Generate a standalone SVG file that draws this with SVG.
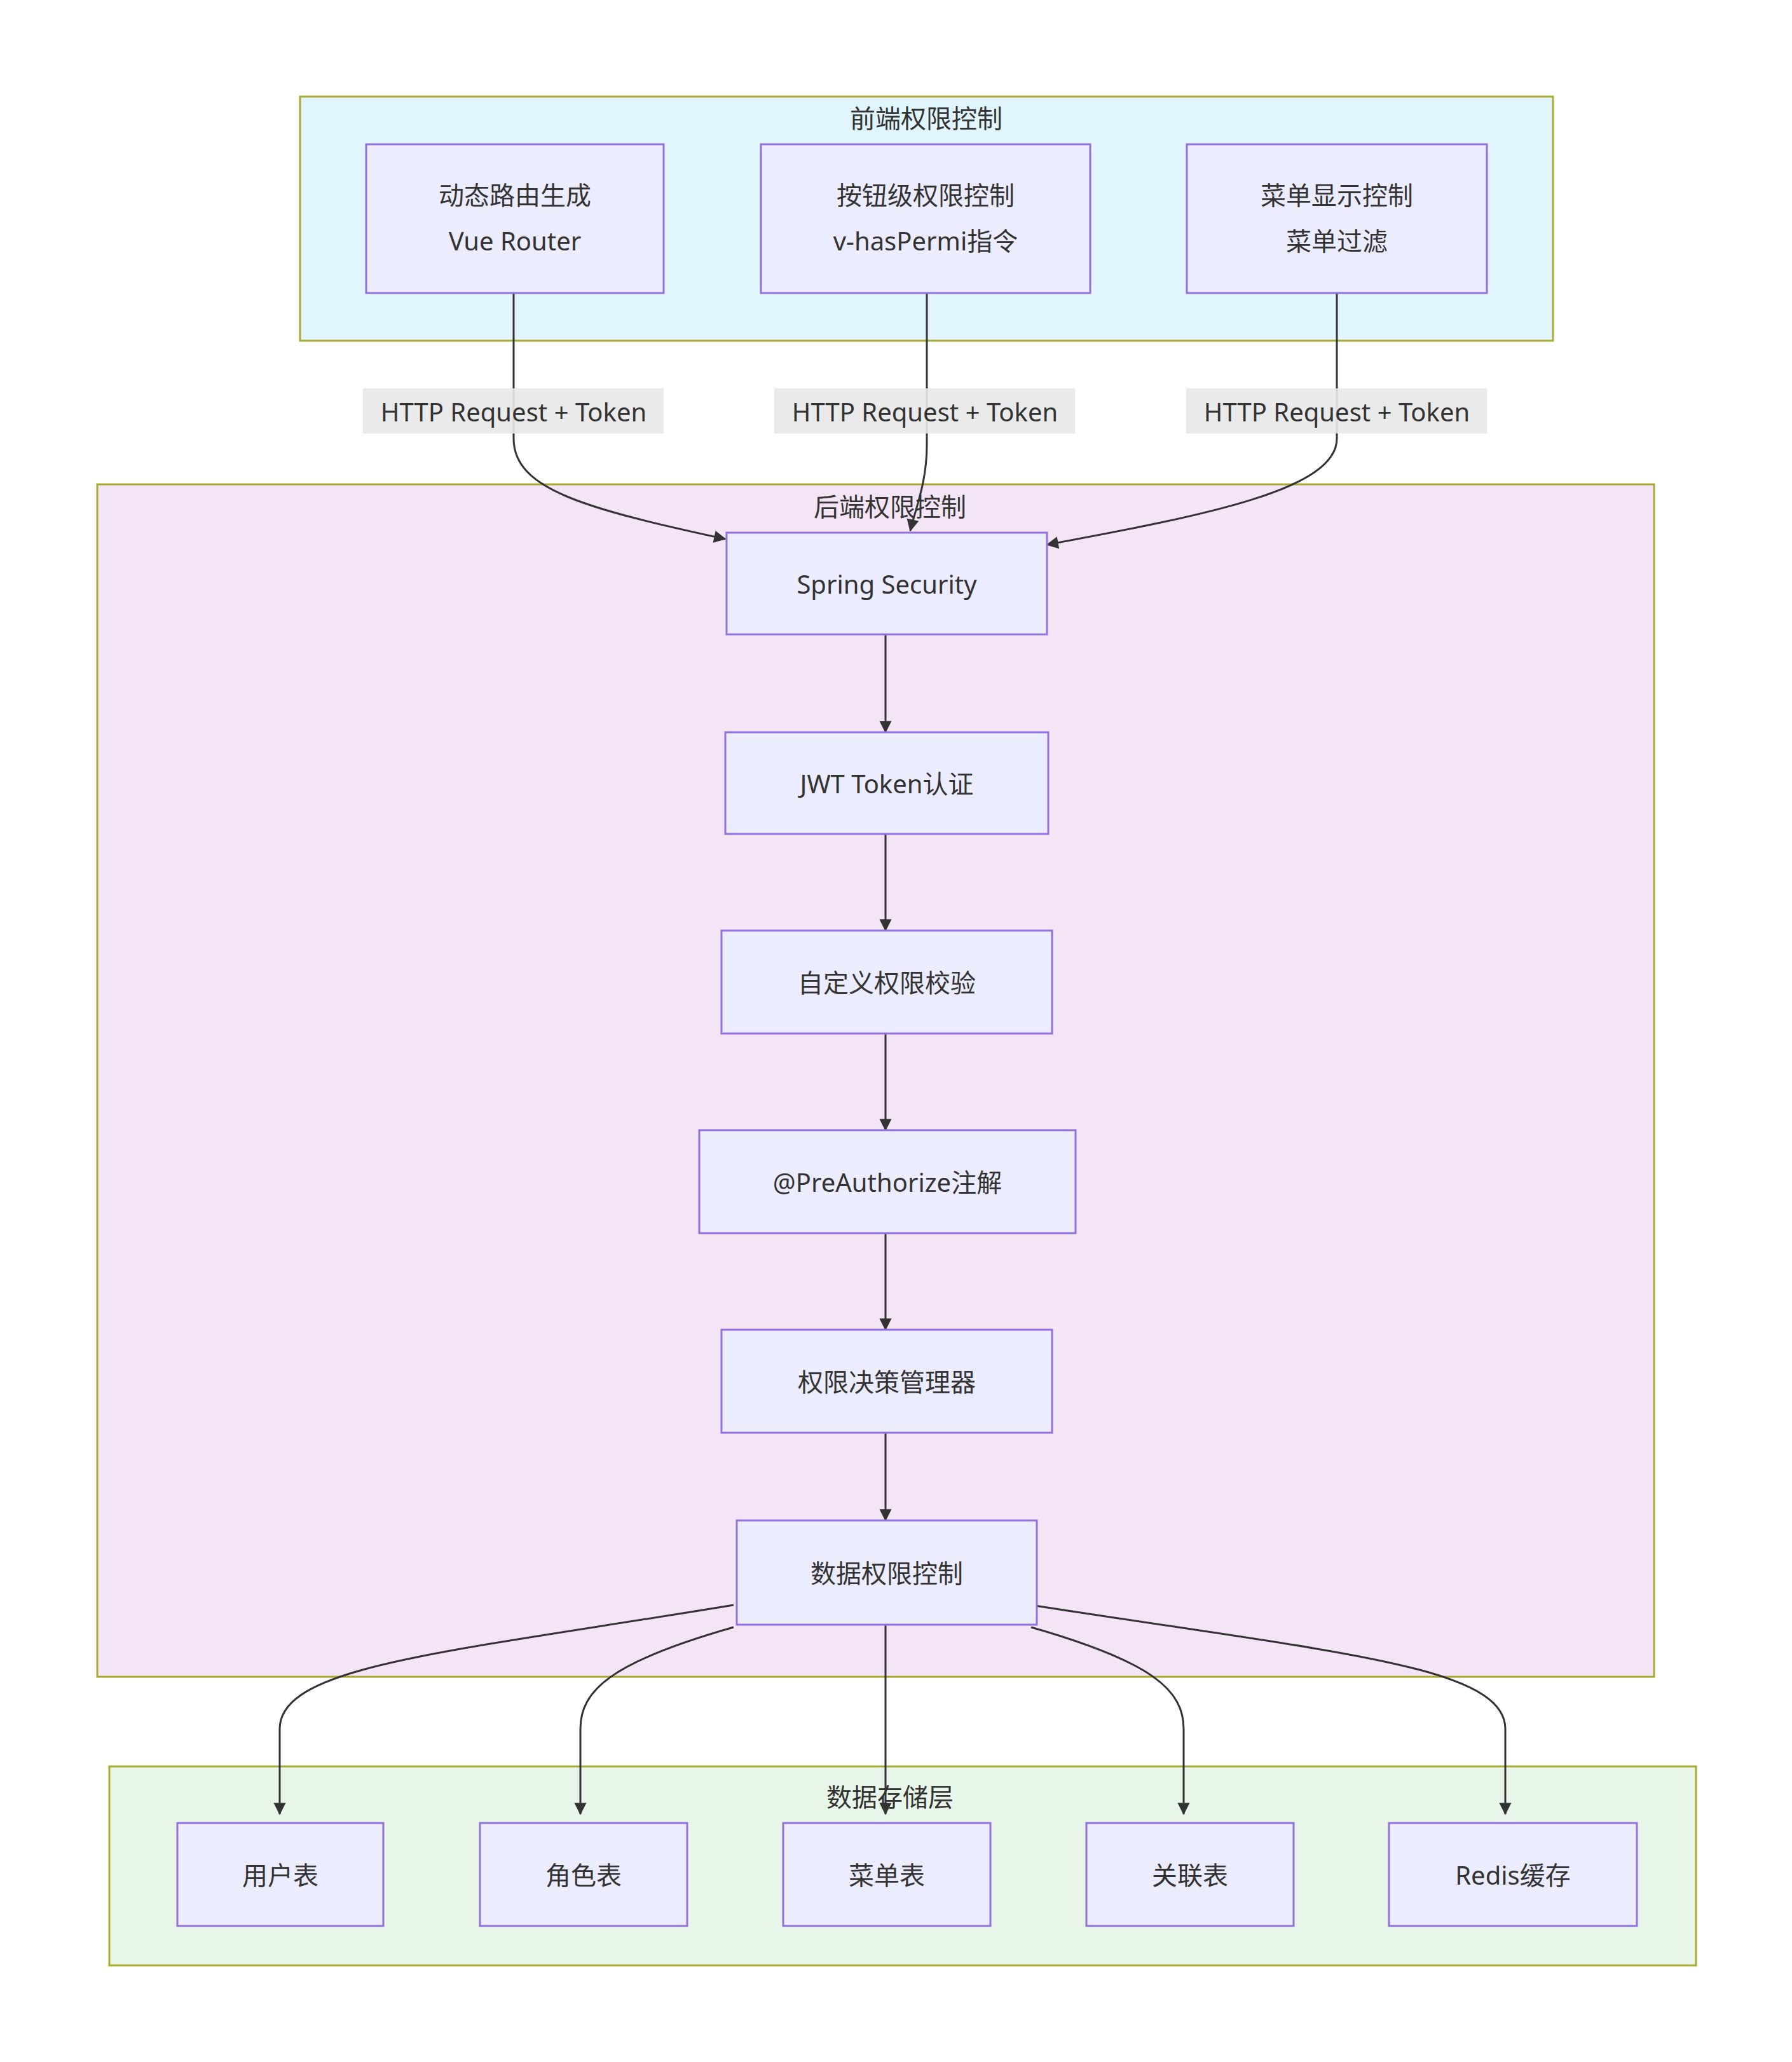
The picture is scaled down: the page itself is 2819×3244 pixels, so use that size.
<svg xmlns="http://www.w3.org/2000/svg" width="2819" height="3244" viewBox="0 0 2819 3244">
<style>
.cl{stroke:#aaaa33;stroke-width:3}
.n rect{fill:#ececff;stroke:#9370db;stroke-width:3}
text{font-family:"Noto Sans","Noto Sans CJK SC",sans-serif;font-size:40px;fill:#333;text-anchor:middle;dominant-baseline:central}
.e{fill:none;stroke:#333;stroke-width:3;marker-end:url(#a)}
.lb{fill:#e8e8e8;opacity:0.9}
</style>
<defs><marker id="a" viewBox="0 0 10 10" refX="9" refY="5" markerWidth="8" markerHeight="8" orient="auto" markerUnits="userSpaceOnUse" style="overflow:visible"><path d="M0,0L10,5L0,10z" fill="#333" transform="scale(2.4) translate(-5.5,-2.9)"/></marker></defs>
<rect width="2819" height="3244" fill="#fff"/>
<g id="frontend"><rect class="cl" x="472" y="152" width="1971" height="384" fill="#e1f5fe"/><text x="1457" y="185">前端权限控制</text></g>
<g id="backend"><rect class="cl" x="153" y="762" width="2449" height="1876" fill="#f3e5f5"/><text x="1400" y="796">后端权限控制</text></g>
<g id="storage"><rect class="cl" x="172" y="2779" width="2496" height="313" fill="#e8f5e9"/><text x="1400" y="2826">数据存储层</text></g>
<g id="edges">
<path class="e" d="M808,461 L808,690 C808,770 920,800 1141,848"/>
<path class="e" d="M1458,461 L1458,700 C1458,760 1440,800 1432,835"/>
<path class="e" d="M2103,461 L2103,690 C2103,770 1900,810 1647,857"/>
<path class="e" d="M1393,998 L1393,1152"/>
<path class="e" d="M1393,1312 L1393,1464"/>
<path class="e" d="M1393,1626 L1393,1778"/>
<path class="e" d="M1393,1940 L1393,2092"/>
<path class="e" d="M1393,2254 L1393,2392"/>
<path class="e" d="M1154,2525 C700,2600 440,2620 440,2720 L440,2854"/>
<path class="e" d="M1154,2560 C960,2615 913,2660 913,2720 L913,2854"/>
<path class="e" d="M1393,2556 L1393,2854"/>
<path class="e" d="M1622,2560 C1815,2615 1862,2660 1862,2720 L1862,2854"/>
<path class="e" d="M1622,2525 C2100,2600 2368,2620 2368,2720 L2368,2854"/>
</g>
<g id="labels">
<rect class="lb" x="571" y="611" width="473" height="71"/><text x="808" y="647">HTTP Request + Token</text>
<rect class="lb" x="1218" y="611" width="473" height="71"/><text x="1455" y="647">HTTP Request + Token</text>
<rect class="lb" x="1866" y="611" width="473" height="71"/><text x="2103" y="647">HTTP Request + Token</text>
</g>
<g id="n1" class="n"><rect x="576" y="227" width="468" height="234"/><text x="810" y="306">动态路由生成</text><text x="810" y="378">Vue Router</text></g>
<g id="n2" class="n"><rect x="1197" y="227" width="518" height="234"/><text x="1456" y="306">按钮级权限控制</text><text x="1456" y="378">v-hasPermi指令</text></g>
<g id="n3" class="n"><rect x="1867" y="227" width="472" height="234"/><text x="2103" y="306">菜单显示控制</text><text x="2103" y="378">菜单过滤</text></g>
<g id="n4" class="n"><rect x="1143" y="838" width="504" height="160"/><text x="1395" y="918">Spring Security</text></g>
<g id="n5" class="n"><rect x="1141" y="1152" width="508" height="160"/><text x="1395" y="1232">JWT Token认证</text></g>
<g id="n6" class="n"><rect x="1135" y="1464" width="520" height="162"/><text x="1395" y="1545">自定义权限校验</text></g>
<g id="n7" class="n"><rect x="1100" y="1778" width="592" height="162"/><text x="1396" y="1859">@PreAuthorize注解</text></g>
<g id="n8" class="n"><rect x="1135" y="2092" width="520" height="162"/><text x="1395" y="2173">权限决策管理器</text></g>
<g id="n9" class="n"><rect x="1159" y="2392" width="472" height="164"/><text x="1395" y="2474">数据权限控制</text></g>
<g id="s1" class="n"><rect x="279" y="2868" width="324" height="162"/><text x="441" y="2949">用户表</text></g>
<g id="s2" class="n"><rect x="755" y="2868" width="326" height="162"/><text x="918" y="2949">角色表</text></g>
<g id="s3" class="n"><rect x="1232" y="2868" width="326" height="162"/><text x="1395" y="2949">菜单表</text></g>
<g id="s4" class="n"><rect x="1709" y="2868" width="326" height="162"/><text x="1872" y="2949">关联表</text></g>
<g id="s5" class="n"><rect x="2185" y="2868" width="390" height="162"/><text x="2380" y="2949">Redis缓存</text></g>
</svg>
